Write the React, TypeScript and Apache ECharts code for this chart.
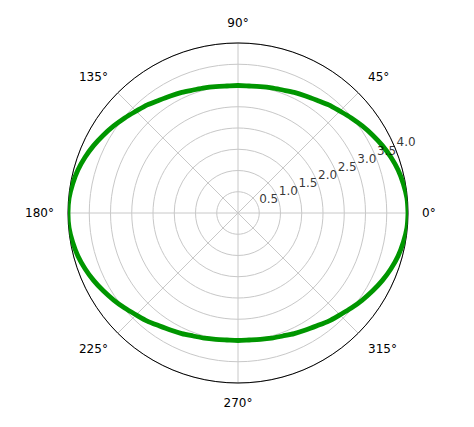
import React, { useEffect, useRef } from "react";
import * as echarts from "echarts";

// Angles (degrees) and radii
const angles = [
  0, 5, 10, 15, 20, 25, 30, 35, 40, 45, 50, 55, 60, 65, 70, 75, 80, 85, 90,
  95, 100, 105, 110, 115, 120, 125, 130, 135, 140, 145, 150, 155, 160, 165, 170, 175, 180,
  185, 190, 195, 200, 205, 210, 215, 220, 225, 230, 235, 240, 245, 250, 255, 260, 265, 270,
  275, 280, 285, 290, 295, 300, 305, 310, 315, 320, 325, 330, 335, 340, 345, 350, 355, 360,
];
const radii = [
  4.0, 3.99, 3.95, 3.9, 3.83, 3.75, 3.66, 3.57, 3.48, 3.39, 3.32, 3.24, 3.18, 3.13, 3.08, 3.05, 3.02, 3.0, 3.0,
  3.0, 3.02, 3.05, 3.08, 3.13, 3.18, 3.24, 3.32, 3.39, 3.48, 3.57, 3.66, 3.75, 3.83, 3.9, 3.95, 3.99, 4.0,
  3.99, 3.95, 3.9, 3.83, 3.75, 3.66, 3.57, 3.48, 3.39, 3.32, 3.24, 3.18, 3.13, 3.08, 3.05, 3.02, 3.0, 3.0,
  3.0, 3.02, 3.05, 3.08, 3.13, 3.18, 3.24, 3.32, 3.39, 3.48, 3.57, 3.66, 3.75, 3.83, 3.9, 3.95, 3.99, 4.0,
];
const radiusTicks = [0.5, 1.0, 1.5, 2.0, 2.5, 3.0, 3.5, 4.0];
const radiusLabelAngle = 22.5;

export default function App() {
  const ref = useRef<HTMLDivElement>(null);
  useEffect(() => {
    if (!ref.current) return;
    const chart = echarts.init(ref.current, null, { renderer: "svg" });
    const font = "DejaVu Sans";
    chart.setOption({
      animation: false,
      polar: { center: [238, 213], radius: 170 },
      angleAxis: {
        type: "value",
        min: 0,
        max: 360,
        interval: 45,
        startAngle: 0,
        clockwise: false,
        axisLine: { show: true, lineStyle: { color: "#000", width: 1 } },
        axisTick: { show: false },
        axisLabel: {
          show: true,
          margin: 14,
          fontFamily: font,
          fontSize: 12,
          color: "#000",
          formatter: (v: number) => (v === 360 ? "" : v + "°"),
        },
        splitLine: { show: true, lineStyle: { color: "#c8c8c8", width: 1 } },
      },
      radiusAxis: {
        type: "value",
        min: 0,
        max: 4,
        interval: 0.5,
        axisLine: { show: false },
        axisTick: { show: false },
        axisLabel: { show: false },
        splitLine: { show: true, lineStyle: { color: "#c8c8c8", width: 1 } },
      },
      series: [
        {
          type: "line",
          coordinateSystem: "polar",
          data: radii.map((r, i) => [r, angles[i]]),
          showSymbol: false,
          smooth: 0.3,
          lineStyle: { color: "#009600", width: 4.8 },
          z: 3,
        },
        {
          type: "scatter",
          coordinateSystem: "polar",
          data: radiusTicks.map((r) => [r, radiusLabelAngle]),
          symbolSize: 1,
          itemStyle: { color: "rgba(0,0,0,0)" },
          silent: true,
          z: 4,
          label: {
            show: true,
            position: [2, 1],
            align: "left",
            verticalAlign: "bottom",
            fontFamily: font,
            fontSize: 12,
            color: "#000",
            formatter: (p: any) => Number(p.value[0]).toFixed(1),
          },
        },
      ],
    });
    return () => chart.dispose();
  }, []);
  return (
    <div
      ref={ref}
      style={{ position: "fixed", left: 0, top: 0, width: 474, height: 427, background: "#fff" }}
    />
  );
}
